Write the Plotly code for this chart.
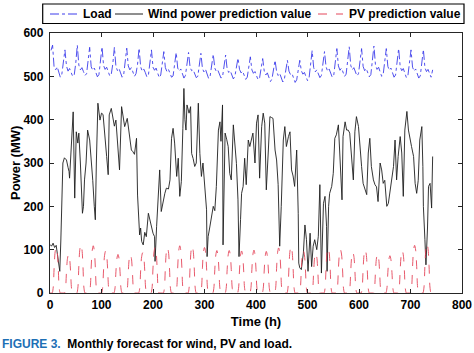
import plotly.graph_objects as go

# ---------------- data ----------------
# Load: one row per day, sampled every 3 h starting at hour 2 (hours 2,5,8,...,23 of each day)
load_rows = [
    [560, 572, 520, 515, 522, 510, 498, 505],
    [528, 561, 524, 512, 518, 508, 500, 503],
    [530, 572, 526, 515, 520, 511, 502, 506],
    [532, 567, 522, 514, 519, 509, 499, 504],
    [530, 568, 525, 516, 521, 512, 501, 505],
    [529, 567, 523, 513, 518, 508, 498, 503],
    [531, 565, 524, 515, 520, 510, 500, 506],
    [528, 565, 522, 512, 517, 509, 499, 502],
    [527, 561, 521, 514, 519, 507, 497, 503],
    [526, 557, 520, 511, 516, 508, 498, 501],
    [525, 555, 519, 512, 517, 506, 496, 502],
    [527, 555, 521, 513, 515, 507, 497, 500],
    [524, 553, 518, 510, 516, 505, 495, 501],
    [523, 551, 519, 511, 514, 506, 496, 499],
    [522, 549, 517, 509, 513, 504, 494, 500],
    [520, 542, 516, 508, 512, 503, 493, 498],
    [521, 545, 515, 507, 511, 502, 492, 497],
    [518, 541, 512, 503, 508, 498, 488, 494],
    [517, 537, 511, 502, 507, 497, 487, 493],
    [516, 537, 512, 504, 506, 496, 486, 492],
    [518, 537, 513, 505, 509, 499, 490, 496],
    [525, 559, 520, 510, 515, 505, 497, 502],
    [527, 557, 522, 512, 517, 507, 498, 503],
    [530, 564, 524, 514, 519, 509, 500, 505],
    [532, 568, 525, 515, 520, 510, 501, 506],
    [530, 564, 523, 513, 518, 508, 499, 504],
    [533, 570, 526, 516, 521, 511, 500, 505],
    [530, 564, 523, 514, 519, 509, 498, 503],
    [529, 564, 522, 513, 518, 508, 497, 502],
    [528, 561, 521, 512, 517, 507, 496, 501],
    [529, 562, 520, 511, 516, 506, 498, 515],
]
load_hours_in_day = [2, 5, 8, 11, 14, 17, 20, 23]

# PV: one row per day, sampled every 2 h (hours 0,2,...,22 of each day)
pv_rows = [
    [0, 0, 0, 10, 58, 95, 105, 95, 58, 10, 0, 0],
    [0, 0, 0, 9, 49, 80, 89, 80, 49, 9, 0, 0],
    [0, 0, 0, 11, 62, 101, 112, 101, 62, 11, 0, 0],
    [0, 0, 0, 11, 60, 98, 109, 98, 60, 11, 0, 0],
    [0, 0, 0, 10, 53, 87, 97, 87, 53, 10, 0, 0],
    [0, 0, 0, 9, 49, 80, 89, 80, 49, 9, 0, 0],
    [0, 0, 0, 9, 49, 80, 89, 80, 49, 9, 0, 0],
    [0, 0, 0, 9, 51, 84, 93, 84, 51, 9, 0, 0],
    [0, 0, 0, 10, 58, 95, 105, 95, 58, 10, 0, 0],
    [0, 0, 0, 10, 58, 95, 105, 95, 58, 10, 0, 0],
    [0, 0, 0, 11, 60, 98, 109, 98, 60, 11, 0, 0],
    [0, 0, 0, 11, 60, 98, 109, 98, 60, 11, 0, 0],
    [0, 0, 0, 10, 58, 95, 105, 95, 58, 10, 0, 0],
    [0, 0, 0, 10, 54, 88, 98, 88, 54, 10, 0, 0],
    [0, 0, 0, 10, 54, 88, 98, 88, 54, 10, 0, 0],
    [0, 0, 0, 10, 53, 87, 97, 87, 53, 10, 0, 0],
    [0, 0, 0, 10, 54, 89, 99, 89, 54, 10, 0, 0],
    [0, 0, 0, 10, 53, 86, 96, 86, 53, 10, 0, 0],
    [0, 0, 0, 10, 57, 94, 104, 94, 57, 10, 0, 0],
    [0, 0, 0, 11, 59, 97, 108, 97, 59, 11, 0, 0],
    [0, 0, 0, 10, 54, 88, 98, 88, 54, 10, 0, 0],
    [0, 0, 0, 9, 51, 83, 92, 83, 51, 9, 0, 0],
    [0, 0, 0, 10, 57, 94, 104, 94, 57, 10, 0, 0],
    [0, 0, 0, 10, 55, 90, 100, 90, 55, 10, 0, 0],
    [0, 0, 0, 9, 52, 85, 94, 85, 52, 9, 0, 0],
    [0, 0, 0, 10, 55, 90, 100, 90, 55, 10, 0, 0],
    [0, 0, 0, 9, 50, 81, 90, 81, 50, 9, 0, 0],
    [0, 0, 0, 9, 47, 77, 86, 77, 47, 9, 0, 0],
    [0, 0, 0, 10, 54, 88, 98, 88, 54, 10, 0, 0],
    [0, 0, 0, 11, 61, 99, 110, 99, 61, 11, 0, 0],
    [0, 0, 0, 11, 63, 103, 114, 103, 63, 11, 0, 0],
]
pv_hours_in_day = [0, 2, 4, 6, 8, 10, 12, 14, 16, 18, 20, 22]

# Wind power prediction: (hour, MW)
wind_time = [
    0, 3, 6, 9, 12, 14, 16, 19, 21, 22, 25, 28, 32, 35, 37, 38, 41, 45, 48, 51,
    54, 56, 59, 61, 63, 65, 67, 70, 73, 77, 80, 83, 86, 88, 90, 93, 97, 100, 103, 106,
    110, 113, 115, 119, 123, 125, 128, 132, 135, 139, 142, 145, 150, 154, 158, 161, 164, 168, 170, 174,
    176, 178, 181, 184, 187, 191, 194, 197, 200, 203, 204, 207, 210, 213, 216, 220, 223, 226, 230, 233,
    236, 239, 242, 246, 249, 252, 255, 258, 260, 262, 264, 266, 270, 273, 275, 278, 281, 284, 288, 291,
    294, 297, 301, 304, 305, 307, 310, 314, 317, 320, 323, 327, 330, 332, 335, 336, 338, 340, 343, 346,
    349, 352, 356, 359, 362, 365, 367, 370, 372, 375, 378, 381, 385, 388, 391, 394, 398, 401, 404, 407,
    411, 414, 417, 420, 424, 427, 430, 433, 437, 440, 443, 446, 449, 453, 456, 459, 463, 466, 469, 472,
    475, 479, 482, 483, 485, 488, 492, 495, 498, 501, 505, 508, 511, 514, 518, 521, 524, 527, 531, 534,
    537, 538, 541, 543, 547, 550, 553, 556, 560, 562, 564, 567, 569, 573, 576, 579, 582, 586, 589, 592,
    595, 599, 602, 605, 608, 612, 615, 618, 621, 624, 628, 631, 634, 637, 641, 644, 647, 650, 654, 657,
    660, 663, 667, 670, 673, 676, 680, 683, 686, 689, 693, 696, 699, 702, 706, 709, 712, 715, 718, 722,
    724, 725, 728, 730, 733, 735, 738, 741, 743,
]
wind_value = [
    112, 108, 115, 105, 110, 95, 75, 50, 120, 177, 300, 312, 307, 290, 280, 265, 330, 418, 219, 372,
    346, 369, 300, 238, 184, 200, 261, 300, 376, 353, 311, 260, 200, 169, 300, 438, 399, 415, 412, 361,
    315, 273, 411, 426, 399, 385, 399, 338, 284, 430, 407, 384, 403, 369, 330, 326, 320, 357, 226, 134,
    150, 119, 111, 140, 130, 184, 169, 150, 138, 130, 73, 154, 220, 284, 188, 215, 230, 242, 240, 261,
    357, 380, 346, 269, 311, 223, 257, 380, 472, 400, 376, 434, 415, 430, 322, 310, 292, 300, 438, 322,
    269, 300, 238, 192, 84, 130, 150, 184, 200, 190, 246, 376, 395, 350, 434, 111, 250, 369, 355, 338,
    276, 261, 388, 349, 299, 215, 84, 170, 230, 246, 311, 250, 353, 338, 353, 369, 300, 392, 411, 265,
    384, 415, 392, 238, 330, 407, 405, 403, 330, 307, 250, 108, 200, 353, 384, 338, 361, 372, 284, 270,
    246, 330, 184, 69, 58, 54, 92, 157, 123, 50, 138, 61, 108, 123, 100, 131, 250, 46, 207, 223,
    154, 50, 200, 230, 246, 276, 357, 365, 388, 342, 315, 215, 361, 395, 376, 376, 369, 307, 261, 372,
    407, 384, 326, 292, 253, 238, 227, 323, 357, 292, 261, 250, 245, 211, 300, 284, 253, 260, 200, 207,
    230, 261, 292, 353, 261, 315, 361, 323, 223, 376, 419, 376, 353, 338, 315, 253, 230, 260, 353, 384,
    292, 200, 123, 65, 150, 246, 253, 196, 315,
]

x_ticks = [0, 100, 200, 300, 400, 500, 600, 700, 800]
y_ticks = [0, 100, 200, 300, 400, 500, 600]

series_names = ["Load", "Wind power prediction value", "PV prediction value"]
x_title = "Time (h)"
y_title = "Power (MW)"
caption_label = "FIGURE 3."
caption_text = "Monthly forecast for wind, PV and load."

# ---------------- build series ----------------
load_t, load_v = [], []
for d, row in enumerate(load_rows):
    for h, v in zip(load_hours_in_day, row):
        load_t.append(24 * d + h)
        load_v.append(v)

pv_t, pv_v = [], []
for d, row in enumerate(pv_rows):
    for h, v in zip(pv_hours_in_day, row):
        pv_t.append(24 * d + h)
        pv_v.append(v)

FONT = "Liberation Sans, Arial, sans-serif"
W, H = 474, 353
ML, MR, MT, MB = 50, 12, 33, 60
PW, PH = W - ML - MR, H - MT - MB

def px_x(p):  # pixel -> paper x
    return (p - ML) / PW

def px_y(p):  # pixel -> paper y
    return (H - MB - p) / PH

line_styles = [
    dict(color="rgb(60,60,235)", width=0.9, dash="dashdot"),
    dict(color="rgb(30,30,30)", width=0.9),
    dict(color="rgb(228,70,90)", width=0.9, dash="dash"),
]

fig = go.Figure()
fig.add_trace(go.Scatter(x=load_t, y=load_v, mode="lines", name=series_names[0],
                         line=line_styles[0], showlegend=False))
fig.add_trace(go.Scatter(x=wind_time, y=wind_value, mode="lines", name=series_names[1],
                         line=line_styles[1], showlegend=False))
fig.add_trace(go.Scatter(x=pv_t, y=pv_v, mode="lines", name=series_names[2],
                         line=dict(**line_styles[2], shape="spline"), showlegend=False))

# ---- legend box drawn by hand (single row, as in the reference) ----
shapes = [dict(type="rect", xref="paper", yref="paper",
               x0=px_x(42.7), x1=px_x(464), y0=px_y(23.5), y1=px_y(4),
               line=dict(color="black", width=1.2), fillcolor="white", layer="above")]
sample_x = [(50, 77), (115, 143), (318, 343)]
text_x = [81, 146, 347]
legend_y = 14
annotations = []
for (a, b), tx, name, st in zip(sample_x, text_x, series_names, line_styles):
    shapes.append(dict(type="line", xref="paper", yref="paper",
                       x0=px_x(a), x1=px_x(b), y0=px_y(legend_y), y1=px_y(legend_y),
                       line=dict(color=st["color"], width=1, dash=st.get("dash", "solid")),
                       layer="above"))
    annotations.append(dict(xref="paper", yref="paper", x=px_x(tx), y=px_y(legend_y),
                            xanchor="left", yanchor="middle", showarrow=False,
                            text="<b>%s</b>" % name,
                            font=dict(family=FONT, size=12, color="black")))

# y-axis title placed where the reference shows it
annotations.append(dict(xref="paper", yref="paper", x=px_x(15), y=0.5,
                        xanchor="center", yanchor="middle", showarrow=False,
                        textangle=-90, text="<b>%s</b>" % y_title,
                        font=dict(family=FONT, size=13, color="black")))

# caption
annotations.append(dict(
    xref="paper", yref="paper", x=px_x(0), y=px_y(335),
    xanchor="left", yanchor="top", showarrow=False,
    text="<b><span style='color:#1d6fb5'>%s</span>&nbsp;&nbsp;%s</b>" % (caption_label, caption_text),
    font=dict(family=FONT, size=12, color="black"),
))

axis_common = dict(
    showline=True, linecolor="rgb(38,38,38)", linewidth=1.3, mirror="allticks",
    ticks="inside", ticklen=4, tickwidth=1.2, tickcolor="rgb(38,38,38)",
    showgrid=False, zeroline=False,
    tickfont=dict(family=FONT, size=12, color="black", weight="bold"),
)

fig.update_layout(
    width=W, height=H,
    margin=dict(l=ML, r=MR, t=MT, b=MB, autoexpand=False),
    paper_bgcolor="white", plot_bgcolor="white",
    font=dict(family=FONT, color="black"),
    showlegend=False,
    xaxis=dict(
        range=[0, 800], tickvals=x_ticks,
        title=dict(text=x_title, standoff=6,
                   font=dict(family=FONT, size=13, color="black", weight="bold")),
        **axis_common,
    ),
    yaxis=dict(
        range=[0, 600], tickvals=y_ticks, ticklabelstandoff=3,
        **axis_common,
    ),
    shapes=shapes,
    annotations=annotations,
)

fig.write_html("out.html")
